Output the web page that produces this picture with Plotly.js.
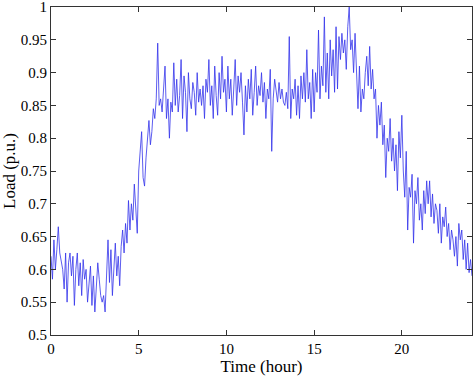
<!DOCTYPE html>
<html>
<head>
<meta charset="utf-8">
<script src="https://cdn.plot.ly/plotly-3.0.1.min.js"></script>
<style>html,body{margin:0;padding:0;background:#fff;}#chart{width:474px;height:376px;}</style>
</head>
<body>
<div id="chart"></div>
<script>
// Load (p.u.) sampled every 5 minutes, 00:00 to 24:00
const stepMinutes = 5;
const load00to06 = [
  0.62, 0.585, 0.645, 0.60, 0.63, 0.665, 0.625, 0.61, 0.60, 0.57, 0.625, 0.55,
  0.61, 0.625, 0.59, 0.62, 0.545, 0.60, 0.625, 0.575, 0.61, 0.56, 0.615, 0.585,
  0.60, 0.55, 0.58, 0.605, 0.545, 0.59, 0.535, 0.58, 0.61, 0.585, 0.56, 0.55,
  0.56, 0.535, 0.60, 0.645, 0.58, 0.63, 0.56, 0.60, 0.64, 0.59, 0.62, 0.575,
  0.635, 0.66, 0.625, 0.67, 0.64, 0.705, 0.66, 0.70, 0.675, 0.73, 0.69, 0.655,
  0.75, 0.78, 0.81, 0.74, 0.727, 0.77, 0.80, 0.827, 0.79, 0.81, 0.845, 0.83
];
const load06to12 = [
  0.86, 0.945, 0.85, 0.86, 0.84, 0.875, 0.91, 0.83, 0.86, 0.80, 0.855, 0.84,
  0.915, 0.85, 0.89, 0.84, 0.865, 0.92, 0.83, 0.895, 0.87, 0.81, 0.90, 0.86,
  0.845, 0.885, 0.87, 0.835, 0.90, 0.855, 0.875, 0.85, 0.88, 0.83, 0.89, 0.87,
  0.92, 0.85, 0.88, 0.83, 0.91, 0.865, 0.835, 0.90, 0.86, 0.925, 0.87, 0.89,
  0.84, 0.91, 0.86, 0.89, 0.835, 0.875, 0.92, 0.85, 0.895, 0.87, 0.90, 0.855,
  0.805, 0.88, 0.84, 0.89, 0.86, 0.905, 0.835, 0.87, 0.91, 0.85, 0.88, 0.865
];
const load12to18 = [
  0.90, 0.855, 0.885, 0.83, 0.875, 0.86, 0.905, 0.78, 0.86, 0.89, 0.875, 0.855,
  0.885, 0.86, 0.875, 0.855, 0.85, 0.87, 0.845, 0.955, 0.83, 0.875, 0.86, 0.89,
  0.835, 0.88, 0.83, 0.895, 0.86, 0.90, 0.855, 0.935, 0.86, 0.885, 0.83, 0.905,
  0.84, 0.90, 0.87, 0.965, 0.86, 0.91, 0.88, 0.985, 0.87, 0.93, 0.86, 0.95,
  0.895, 0.935, 0.87, 0.97, 0.875, 0.955, 0.92, 0.96, 0.93, 0.95, 0.905, 0.97,
  1.0, 0.935, 0.95, 0.90, 0.96, 0.905, 0.845, 0.91, 0.84, 0.875, 0.86, 0.90
];
const load18to24 = [
  0.925, 0.88, 0.94, 0.875, 0.905, 0.86, 0.875, 0.80, 0.85, 0.82, 0.855, 0.79,
  0.82, 0.74, 0.80, 0.78, 0.83, 0.765, 0.80, 0.75, 0.79, 0.72, 0.81, 0.77,
  0.835, 0.75, 0.71, 0.78, 0.66, 0.725, 0.71, 0.745, 0.64, 0.72, 0.70, 0.74,
  0.675, 0.70, 0.66, 0.72, 0.685, 0.735, 0.70, 0.735, 0.68, 0.715, 0.67, 0.70,
  0.69, 0.655, 0.70, 0.64, 0.68, 0.665, 0.695, 0.65, 0.67, 0.63, 0.66, 0.645,
  0.62, 0.65, 0.605, 0.67, 0.645, 0.66, 0.615, 0.645, 0.60, 0.64, 0.595, 0.615,
  0.59
];
const xTicks = [0, 5, 10, 15, 20];
const yTicks = [0.5, 0.55, 0.6, 0.65, 0.7, 0.75, 0.8, 0.85, 0.9, 0.95, 1];
const yTickText = ['0.5', '0.55', '0.6', '0.65', '0.7', '0.75', '0.8', '0.85', '0.9', '0.95', '1'];

const load = load00to06.concat(load06to12, load12to18, load18to24);
const hours = load.map((_, i) => i * stepMinutes / 60);

const family = '"Liberation Serif", "Times New Roman", serif';
const tickFont = {family: family, size: 15, color: '#000'};
const titleFont = {family: family, size: 17, color: '#000'};
const axisCommon = {
  showgrid: false, zeroline: false, showline: true, linecolor: '#333', linewidth: 1,
  mirror: 'ticks', ticks: 'inside', ticklen: 5, tickcolor: '#333', tickwidth: 1,
  tickfont: tickFont, ticklabeloverflow: 'allow'
};
Plotly.newPlot('chart', [{
  x: hours, y: load, type: 'scatter', mode: 'lines',
  line: {color: 'rgb(50,50,235)', width: 0.8}, hoverinfo: 'skip'
}], {
  width: 474, height: 376,
  margin: {l: 51, r: 2, t: 7, b: 41},
  paper_bgcolor: '#fff', plot_bgcolor: '#fff',
  showlegend: false, font: tickFont,
  xaxis: Object.assign({}, axisCommon, {
    range: [0, 24], tickmode: 'array', tickvals: xTicks, ticklabelstandoff: 0,
    title: {text: 'Time (hour)', font: titleFont, standoff: 1}
  }),
  yaxis: Object.assign({}, axisCommon, {
    range: [0.4999, 1.0001], tickmode: 'array', tickvals: yTicks, ticktext: yTickText,
    title: {text: 'Load (p.u.)', font: titleFont, standoff: 5}
  })
}, {staticPlot: true, displayModeBar: false});
</script>
</body>
</html>
